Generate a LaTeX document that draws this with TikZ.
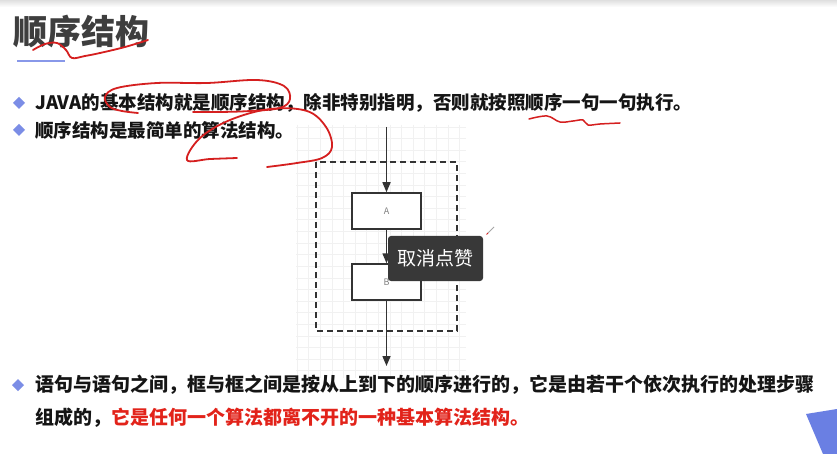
\documentclass[tikz,border=0pt]{standalone}
\usepackage{fontspec}
\setmainfont{Noto Sans CJK SC}
\usetikzlibrary{arrows.meta,shapes.geometric}
\definecolor{txt}{HTML}{151515}
\definecolor{ttl}{HTML}{3E3E3E}
\definecolor{bullet}{HTML}{7B8DE6}
\definecolor{redtxt}{HTML}{E2231A}
\definecolor{scrib}{HTML}{D51F1F}
\definecolor{linec}{HTML}{333333}
\definecolor{gridc}{HTML}{F1F1F1}
\definecolor{tipbg}{HTML}{383838}
\definecolor{tri}{HTML}{6A7FE3}
\tikzset{
  line/.style={draw=linec, line width=1.5pt},
  arr/.style={line, -{Triangle[length=10pt,width=8pt]}},
  box/.style={rectangle, draw=linec, line width=1.5pt, fill=white, minimum width=69pt, minimum height=36pt, inner sep=0pt, font=\fontsize{9}{10}\selectfont, text=gray},
  bodytxt/.style={anchor=west, inner sep=0pt, text=txt, font=\bfseries\fontsize{18.5}{22}\selectfont},
  bottxt/.style={anchor=west, inner sep=0pt, text=txt, font=\bfseries\fontsize{19}{23}\selectfont},
  scribble/.style={draw=scrib, line width=1.8pt, line cap=round, line join=round},
  tip/.style={rectangle, rounded corners=3pt, fill=tipbg, text=white, minimum width=95pt, minimum height=45pt, inner sep=0pt, font=\fontsize{19}{21}\selectfont}
}
\begin{document}
\begin{tikzpicture}[x=1pt,y=-1pt]
\useasboundingbox (0,0) rectangle (837,454);
\fill[white] (0,0) rectangle (837,454);
\shade[top color=gray!25, bottom color=white] (0,0) rectangle (837,7);
% title
\node[anchor=west, inner sep=0pt, text=ttl, font=\bfseries\fontsize{34}{38}\selectfont] (title) at (13,31) {顺序结构};
\draw[bullet!90, line width=2pt] (17,61) -- (65,61);
% bullets
\fill[bullet] (19,97) -- (25,103) -- (19,109) -- (13,103) -- cycle;
\node[bodytxt] (l1) at (35,103) {JAVA的基本结构就是顺序结构，除非特别指明，否则就按照顺序一句一句执行。};
\fill[bullet] (19,124) -- (25,130) -- (19,136) -- (13,130) -- cycle;
\node[bodytxt] (l2) at (35,130) {顺序结构是最简单的算法结构。};
% grid
\foreach \i in {0,...,14} {\draw[gridc, line width=0.6pt] (297+\i*11.6,125) -- (297+\i*11.6,378);}
\foreach \j in {0,...,21} {\draw[gridc, line width=0.6pt] (296,127+\j*11.6) -- (466,127+\j*11.6);}
% flowchart
\draw[draw=linec, line width=1.7pt, dash pattern=on 6pt off 4pt] (316,162) rectangle (457,331);
\coordinate (top) at (386.5,127);
\coordinate (bot) at (386.5,366);
\node[box] (A) at (386.5,211) {A};
\node[box] (B) at (386.5,282) {B};
\draw[arr] (top) -- (A);
\draw[arr] (A) -- (B);
\draw[arr] (B) -- (bot);
% tooltip
\node[tip] (tt) at (435.5,258.5) {取消点赞};
\draw[gray!70, line width=1pt] (488,233) -- (494,227);
\draw[scrib, line width=1pt] (486.5,234.5) -- (488,233);
% bottom text
\fill[bullet] (18,379) -- (24,385) -- (18,391) -- (12,385) -- cycle;
\node[bottxt] (l3) at (35,385) {语句与语句之间，框与框之间是按从上到下的顺序进行的，它是由若干个依次执行的处理步骤};
\node[bottxt] (l4) at (35,418) {组成的，\textcolor{redtxt}{它是任何一个算法都离不开的一种基本算法结构。}};
% corner triangle
\fill[tri] (806,414) -- (837,409) -- (837,454) -- (823,454) -- cycle;
% red scribbles
\draw[scribble] plot[smooth, tension=0.6] coordinates {(33,50) (45,44) (57,43) (66,50) (72,58) (85,56) (100,53) (125,47) (148,40)};
\draw[scribble] plot[smooth, tension=0.6] coordinates {(138,113) (122,111) (110,107) (105,97) (117,88) (157,83) (207,83) (257,80) (284,86) (290,99) (280,108) (250,111) (220,112) (193,112)};
\draw[scribble] plot[smooth, tension=0.6] coordinates {(237,158) (210,159) (187,160) (200,138) (230,120) (270,109) (307,111) (326,127) (332,147) (322,158) (297,163) (267,167)};
\draw[scribble, line width=1.5pt] plot[smooth, tension=0.6] coordinates {(529,119) (547,116) (560,122) (573,121) (583,120) (588,125) (600,124) (620,123)};
\end{tikzpicture}
\end{document}
